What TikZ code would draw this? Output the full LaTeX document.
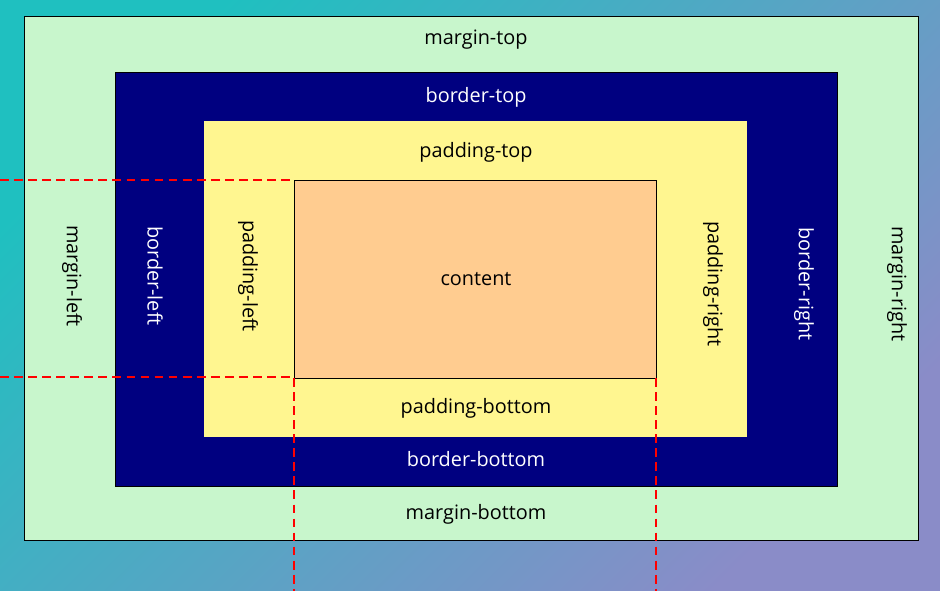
\documentclass[tikz,border=0pt]{standalone}
\usepackage{fontspec}
\setmainfont{Open Sans}
\definecolor{bgA}{HTML}{1FC0C0}
\definecolor{bgB}{HTML}{8A8CC8}
\definecolor{marg}{HTML}{C8F6CC}
\definecolor{bord}{HTML}{000080}
\definecolor{padd}{HTML}{FFF690}
\definecolor{cont}{HTML}{FFCC90}
\begin{document}
\begin{tikzpicture}[x=0.02cm,y=-0.02cm,
  lbl/.style={font=\fontsize{11.3}{13}\selectfont,text=black,inner sep=0pt},
  wlbl/.style={lbl,text=white},
  vert/.style={rotate=-90},
  guide/.style={red,dashed,line width=0.7pt,dash pattern=on 5pt off 3pt}]
\useasboundingbox (0,0) rectangle (940,591);
\shade[top color=bgA,bottom color=bgB,shading angle=45] (0,0) rectangle (940,591);
\draw[fill=marg,line width=0.5pt] (24,16) rectangle (918,540);
\draw[fill=bord,draw=black,line width=0.5pt] (115,72) rectangle (837,486);
\fill[padd] (204,121) rectangle (747,437);
\draw[fill=cont,line width=0.5pt] (294,180) rectangle (656,378);
\coordinate (l1) at (0,180); \coordinate (c1) at (294,180);
\coordinate (l2) at (0,377); \coordinate (c2) at (294,377);
\coordinate (c3) at (294,378); \coordinate (b3) at (294,591);
\coordinate (c4) at (656,378); \coordinate (b4) at (656,591);
\draw[guide] (l1) -- (c1);
\draw[guide] (l2) -- (c2);
\draw[guide] (c3) -- (b3);
\draw[guide] (c4) -- (b4);
\node[lbl] (mt) at (476,40) {margin-top};
\node[wlbl] (bt) at (476,97) {border-top};
\node[lbl] (pt) at (476,152) {padding-top};
\node[lbl] (ct) at (476,279) {content};
\node[lbl] (pb) at (476,408) {padding-bottom};
\node[wlbl] (bb) at (476,459) {border-bottom};
\node[lbl] (mb) at (476,514) {margin-bottom};
\node[lbl,vert] (ml) at (72,276) {margin-left};
\node[wlbl,vert] (bl) at (155,276) {border-left};
\node[lbl,vert] (pl) at (248,276) {padding-left};
\node[lbl,vert] (pr) at (713,284) {padding-right};
\node[wlbl,vert] (br) at (804,284) {border-right};
\node[lbl,vert] (mr) at (897,284) {margin-right};
\end{tikzpicture}
\end{document}
